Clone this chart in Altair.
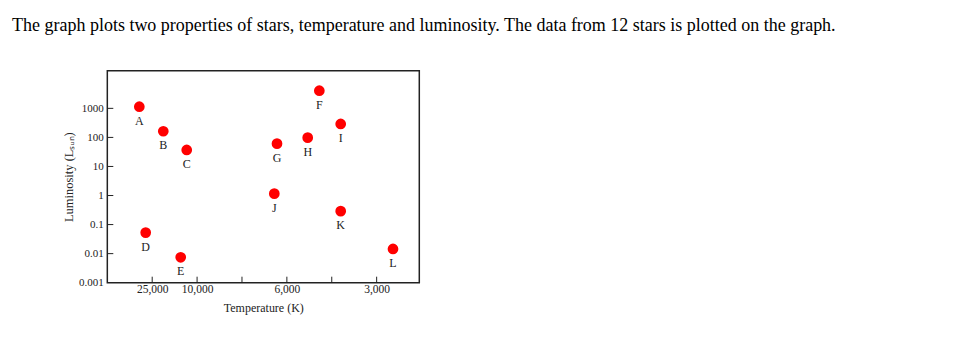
import altair as alt
import pandas as pd

# --- data ---
star_names = ["A", "B", "C", "D", "E", "F", "G", "H", "I", "J", "K", "L"]
# position along the (schematic, evenly ticked) temperature axis, in tick units
temp_axis_pos = [0.713, 1.247, 1.769, 0.855, 1.635, 4.723, 3.780, 4.464, 5.199, 3.720, 5.199, 6.364]
# luminosity in solar units
luminosity = [1140, 163, 37, 0.053, 0.0075, 4050, 61, 98, 290, 1.16, 0.29, 0.0145]

x_tick_pos = [1, 2, 3, 4, 5, 6]
x_tick_labels = ["25,000", "10,000", "", "6,000", "", "3,000"]
y_tick_values = [0.001, 0.01, 0.1, 1, 10, 100, 1000]
y_inner_ticks = [0.01, 0.1, 1, 10, 100, 1000]

title_text = ("The graph plots two properties of stars, temperature and luminosity. "
              "The data from 12 stars is plotted on the graph.")

W, H = 312, 212
X_DOMAIN = [0, 6.95]
Y_DOMAIN = [0.001, 19770]
FONT = "Liberation Serif"

df = pd.DataFrame({"name": star_names, "x": temp_axis_pos, "L": luminosity})
xt = pd.DataFrame({"x": x_tick_pos})
yt = pd.DataFrame({"L": y_inner_ticks})

label_js = "[" + ",".join("'" + s + "'" for s in x_tick_labels) + "]"

xscale = alt.Scale(domain=X_DOMAIN, nice=False, zero=False)
yscale = alt.Scale(type="log", domain=Y_DOMAIN, nice=False)

x_enc = alt.X(
    "x:Q", scale=xscale,
    axis=alt.Axis(values=x_tick_pos, labelExpr=label_js + "[datum.value-1]",
                  ticks=False, domain=False, grid=False, labelPadding=1,
                  labelFont=FONT, labelFontSize=11.5, labelColor="#222",
                  title="Temperature (K)", titleFont=FONT, titleFontSize=12,
                  titleFontWeight="normal", titleColor="#222", titlePadding=7),
)
y_enc = alt.Y(
    "L:Q", scale=yscale,
    axis=alt.Axis(values=y_tick_values, format="~g", ticks=False, domain=False,
                  grid=False, labelPadding=4, labelFont=FONT, labelFontSize=11,
                  labelColor="#222", title="Luminosity (Lₛᵤₙ)", titleFont=FONT,
                  titleFontSize=12.5, titleFontWeight="normal", titleColor="#222",
                  titlePadding=3),
)

points = alt.Chart(df).mark_circle(size=115, color="#ff0000", opacity=1).encode(
    x=x_enc, y=y_enc
)
labels = alt.Chart(df).mark_text(
    font=FONT, fontSize=12, color="#222", dy=14, baseline="middle"
).encode(
    x=alt.X("x:Q", scale=xscale), y=alt.Y("L:Q", scale=yscale), text="name:N"
)
xticks = alt.Chart(xt).mark_rule(color="#222", strokeWidth=1).encode(
    x=alt.X("x:Q", scale=xscale), y=alt.value(H), y2=alt.value(H - 6)
)
yticks = alt.Chart(yt).mark_rule(color="#222", strokeWidth=1).encode(
    y=alt.Y("L:Q", scale=yscale), x=alt.value(0), x2=alt.value(6)
)

chart = alt.layer(xticks, yticks, points, labels).properties(
    width=W, height=H,
    autosize=alt.AutoSizeParams(type="none"),
    padding={"left": 99.3, "top": 62.7, "right": 525, "bottom": 50},
    title=alt.TitleParams(
        text=title_text, anchor="start", frame="group", dx=-95.3,
        font=FONT, fontSize=18, fontWeight="normal", color="#000",
        baseline="alphabetic", offset=22,
    ),
).configure_view(stroke="#222", strokeWidth=1.5)

chart.save("out.html", embed_options={"renderer": "svg", "actions": False})
